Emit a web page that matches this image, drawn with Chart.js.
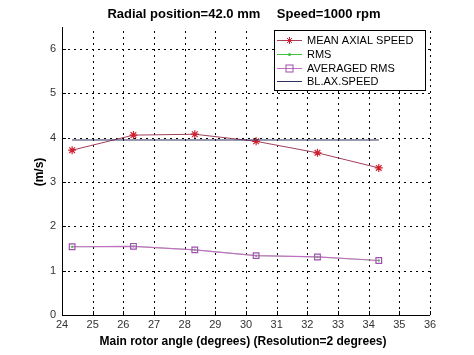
<!DOCTYPE html>
<html><head><meta charset="utf-8">
<script src="https://cdn.jsdelivr.net/npm/chart.js@4"></script>
<style>html,body{margin:0;padding:0;background:#fff}#wrap{width:474px;height:355px}</style>
</head><body><div id="wrap"><canvas id="c" width="474" height="355"></canvas></div>
<script>
const angles = [24.33, 26.33, 28.33, 30.33, 32.33, 34.33];
const meanAxialSpeed = [3.72, 4.06, 4.08, 3.92, 3.66, 3.32];
const rms = [1.54, 1.55, 1.47, 1.34, 1.31, 1.23];
const averagedRms = [1.54, 1.55, 1.47, 1.34, 1.31, 1.23];
const blAxSpeed = [3.95, 3.95];
const blAxAngles = [24.33, 34.33];
const xTicks = [24,25,26,27,28,29,30,31,32,33,34,35,36];
const yTicks = [0,1,2,3,4,5,6];
const titleText = 'Radial position=42.0 mm   Speed=1000 rpm';
const xTitle = 'Main rotor angle (degrees) (Resolution=2 degrees)';
const yTitle = '(m/s)';
const legendLabels = ['MEAN AXIAL SPEED','RMS','AVERAGED RMS','BL.AX.SPEED'];

const pts = (xs, ys) => xs.map((x,i)=>({x, y: ys[i]}));

const colors = {
  mean: '#a0405a', meanMk: '#d02030',
  rms: '#40c040',
  avg: '#c070c0', avgMk: '#a050b0',
  bl: '#303060'
};

const gridPlugin = {
  id: 'dotGrid',
  beforeDatasetsDraw(chart) {
    const { ctx, chartArea: a, scales } = chart;
    ctx.save();
    ctx.strokeStyle = '#000';
    ctx.lineWidth = 1;
    ctx.setLineDash([2, 4]);
    xTicks.forEach(v => {
      const x = Math.round(scales.x.getPixelForValue(v)) + 0.5;
      ctx.beginPath(); ctx.moveTo(x, a.bottom); ctx.lineTo(x, a.top); ctx.stroke();
    });
    yTicks.forEach(v => {
      const y = Math.round(scales.y.getPixelForValue(v)) + 0.5;
      ctx.beginPath(); ctx.moveTo(a.left, y); ctx.lineTo(a.right, y); ctx.stroke();
    });
    ctx.setLineDash([]);
    xTicks.forEach(v => {
      const x = Math.round(scales.x.getPixelForValue(v)) + 0.5;
      ctx.beginPath(); ctx.moveTo(x, a.bottom); ctx.lineTo(x, a.bottom - 4); ctx.stroke();
    });
    yTicks.forEach(v => {
      const y = Math.round(scales.y.getPixelForValue(v)) + 0.5;
      ctx.beginPath(); ctx.moveTo(a.left, y); ctx.lineTo(a.left + 4, y); ctx.stroke();
    });
    ctx.beginPath();
    ctx.moveTo(Math.round(a.left)+0.5, a.top); ctx.lineTo(Math.round(a.left)+0.5, Math.round(a.bottom)+0.5);
    ctx.lineTo(a.right, Math.round(a.bottom)+0.5);
    ctx.stroke();
    ctx.restore();
  }
};

const overlay = {
  id: 'overlay',
  afterDraw(chart) {
    const ctx = chart.ctx;
    ctx.save();
    ctx.fillStyle = '#000';
    ctx.textBaseline = 'middle';
    ctx.textAlign = 'center';
    ctx.font = 'bold 13px Arial, "Liberation Sans", sans-serif';
    ctx.fillText(titleText.replace(/   /,'\u2003 '), 244, 14);
    ctx.font = 'bold 12px Arial, "Liberation Sans", sans-serif';
    ctx.fillText(xTitle, 243, 342);
    ctx.save();
    ctx.translate(40, 172);
    ctx.rotate(-Math.PI/2);
    ctx.fillText(yTitle, 0, 0);
    ctx.restore();
    const lx = 274, ly = 30, lw = 151, lh = 60;
    ctx.fillStyle = '#fff';
    ctx.fillRect(lx, ly, lw, lh);
    ctx.strokeStyle = '#000';
    ctx.lineWidth = 1;
    ctx.strokeRect(lx+0.5, ly+0.5, lw, lh);
    const rows = [40, 54, 68, 81];
    const lineCols = [colors.mean, colors.rms, colors.avg, colors.bl];
    ctx.font = '11px Arial, "Liberation Sans", sans-serif';
    ctx.textAlign = 'left';
    rows.forEach((y, i) => {
      ctx.strokeStyle = lineCols[i];
      ctx.beginPath(); ctx.moveTo(277, y+0.5); ctx.lineTo(302, y+0.5); ctx.stroke();
      const cx = 289.5;
      if (i === 0) {
        ctx.strokeStyle = colors.meanMk;
        ctx.beginPath();
        ctx.moveTo(cx-3.5,y+0.5); ctx.lineTo(cx+3.5,y+0.5);
        ctx.moveTo(cx,y-3); ctx.lineTo(cx,y+4);
        ctx.moveTo(cx-2.5,y-2); ctx.lineTo(cx+2.5,y+3);
        ctx.moveTo(cx-2.5,y+3); ctx.lineTo(cx+2.5,y-2);
        ctx.stroke();
      } else if (i === 1) {
        ctx.fillStyle = colors.rms;
        ctx.beginPath(); ctx.arc(cx, y+0.5, 1.5, 0, Math.PI*2); ctx.fill();
      } else if (i === 2) {
        ctx.strokeStyle = colors.avgMk;
        ctx.strokeRect(cx-3.5, y-3, 7, 7);
      }
      ctx.fillStyle = '#000';
      ctx.fillText(legendLabels[i], 307, y+1);
    });
    ctx.restore();
  }
};

new Chart(document.getElementById('c'), {
  type: 'scatter',
  data: {
    datasets: [
      { label: legendLabels[0], data: pts(angles, meanAxialSpeed), showLine: true,
        borderColor: colors.mean, borderWidth: 1, pointStyle: 'star', pointRadius: 4,
        pointBorderColor: colors.meanMk, pointBorderWidth: 1.2, pointBackgroundColor: colors.meanMk, order: 1 },
      { label: legendLabels[1], data: pts(angles, rms), showLine: true,
        borderColor: colors.rms, borderWidth: 0.5, pointStyle: 'circle', pointRadius: 1,
        pointBackgroundColor: colors.rms, pointBorderColor: colors.rms, order: 3 },
      { label: legendLabels[2], data: pts(angles, averagedRms), showLine: true,
        borderColor: colors.avg, borderWidth: 1.2, pointStyle: 'rect', pointRadius: 4,
        pointBorderColor: colors.avgMk, pointBackgroundColor: 'rgba(0,0,0,0)', pointBorderWidth: 1.2, order: 2 },
      { label: legendLabels[3], data: pts(blAxAngles, blAxSpeed), showLine: true,
        borderColor: colors.bl, borderWidth: 1, pointRadius: 0, order: 0 }
    ]
  },
  options: {
    responsive: false,
    animation: false,
    events: [],
    layout: { padding: { left: 0, right: 44, top: 27, bottom: 0 } },
    plugins: { legend: { display: false }, tooltip: { enabled: false }, title: { display: false } },
    scales: {
      x: {
        type: 'linear', min: 24, max: 36,
        afterBuildTicks(s) { s.ticks = xTicks.map(v => ({ value: v })); },
        afterFit(s) { s.height = 40; },
        ticks: { color: '#333', font: { size: 11, family: 'Arial, "Liberation Sans", sans-serif' }, padding: 3, maxRotation: 0, autoSkip: false },
        grid: { display: false, drawTicks: false },
        border: { display: false }
      },
      y: {
        type: 'linear', min: 0, max: 6.5,
        afterBuildTicks(s) { s.ticks = yTicks.map(v => ({ value: v })); },
        afterFit(s) { s.width = 62; },
        ticks: { color: '#333', font: { size: 11, family: 'Arial, "Liberation Sans", sans-serif' }, padding: 6, autoSkip: false },
        grid: { display: false, drawTicks: false },
        border: { display: false }
      }
    }
  },
  plugins: [gridPlugin, overlay]
});
</script></body></html>
